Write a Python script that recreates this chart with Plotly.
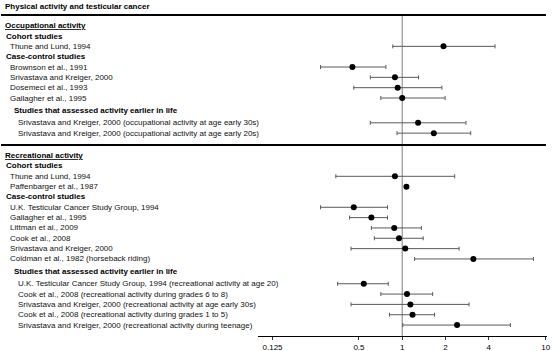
import plotly.graph_objects as go
import math

# ---------------- data ----------------
title_text = "Physical activity and testicular cancer"
sections = ["Occupational activity", "Recreational activity"]
groups = ["Cohort studies", "Case-control studies",
          "Studies that assessed activity earlier in life"]

occ_labels = [
    "Thune and Lund, 1994",
    "Brownson et al., 1991",
    "Srivastava and Kreiger, 2000",
    "Dosemeci et al., 1993",
    "Gallagher et al., 1995",
    "Srivastava and Kreiger, 2000 (occupational activity at age early 30s)",
    "Srivastava and Kreiger, 2000 (occupational activity at age early 20s)",
]
occ_group = [0, 1, 1, 1, 1, 2, 2]
occ_or = [1.94, 0.45, 0.89, 0.93, 1.00, 1.29, 1.66]
occ_lo = [0.86, 0.27, 0.60, 0.46, 0.71, 0.60, 0.92]
occ_hi = [4.43, 0.77, 1.30, 1.89, 1.99, 2.78, 3.00]

rec_labels = [
    "Thune and Lund, 1994",
    "Paffenbarger et al., 1987",
    "U.K. Testicular Cancer Study Group, 1994",
    "Gallagher et al., 1995",
    "Littman et al., 2009",
    "Cook et al., 2008",
    "Srivastava and Kreiger, 2000",
    "Coldman et al., 1982 (horseback riding)",
    "U.K. Testicular Cancer Study Group, 1994 (recreational activity at age 20)",
    "Cook et al., 2008 (recreational activity during grades 6 to 8)",
    "Srivastava and Kreiger, 2000 (recreational activity at age early 30s)",
    "Cook et al., 2008 (recreational activity during grades 1 to 5)",
    "Srivastava and Kreiger, 2000 (recreational activity during teenage)",
]
rec_group = [0, 0, 1, 1, 1, 1, 1, 1, 2, 2, 2, 2, 2]
rec_or = [0.89, 1.07, 0.46, 0.61, 0.88, 0.95, 1.05, 3.13, 0.54, 1.08, 1.14, 1.18, 2.41]
rec_lo = [0.345, None, 0.27, 0.43, 0.61, 0.64, 0.44, 1.22, 0.355, 0.71, 0.44, 0.815, 1.01]
rec_hi = [2.32, None, 0.79, 0.79, 1.36, 1.40, 2.49, 8.2, 0.80, 1.63, 2.92, 1.68, 5.67]

x_ticks = [0.125, 0.5, 1, 2, 4, 10]
x_ticklabels = ["0.125", "0.5", "1", "2", "4", "10"]

# ---------------- layout constants ----------------
W, H = 553, 351
PLOT_L, PLOT_R, PLOT_B = 258, 547, 336
PX_PER_DEC = 143.6
ONE_PX = 402.2
STEP = 10.33
SUB_GAP = 12.4
SEC_GAP = 10.7
END_GAP = 11.8
TOP_RULE = 15
FONT = "Liberation Sans, Arial, sans-serif"
FS = 8


def paper_x(px):
    return (px - PLOT_L) / (PLOT_R - PLOT_L)


annotations = []
shapes = []
pts_x, pts_y = [], []
ci_x, ci_y, ci_plus, ci_minus = [], [], [], []

annotations.append(dict(x=paper_x(3), y=6, xref="paper", yref="y", text="<b>" + title_text + "</b>",
                        showarrow=False, xanchor="left", yanchor="middle",
                        font=dict(family=FONT, size=FS, color="#000")))

rules = [TOP_RULE]
sec_data = [(occ_labels, occ_group, occ_or, occ_lo, occ_hi),
            (rec_labels, rec_group, rec_or, rec_lo, rec_hi)]

y = TOP_RULE
for si, (sec, (labels, grp, orv, lov, hiv)) in enumerate(zip(sections, sec_data)):
    y += SEC_GAP
    annotations.append(dict(x=paper_x(2.7), y=y, xref="paper", yref="y", text="<b>" + sec + "</b>",
                            showarrow=False, xanchor="left", yanchor="middle",
                            font=dict(family=FONT, size=FS, color="#000", lineposition="under")))
    prev = None
    for i, lab in enumerate(labels):
        g = grp[i]
        if g != prev:
            gap = SUB_GAP if g == 2 else STEP
            indent = 12 if g == 2 else 4
            y += gap
            annotations.append(dict(x=paper_x(indent), y=y, xref="paper", yref="y",
                                    text="<b>" + groups[g] + "</b>", showarrow=False,
                                    xanchor="left", yanchor="middle",
                                    font=dict(family=FONT, size=FS, color="#000")))
            y += gap
            prev = g
        else:
            y += STEP
        annotations.append(dict(x=paper_x(16 if g == 2 else 8), y=y, xref="paper", yref="y",
                                text=lab, showarrow=False, xanchor="left", yanchor="middle",
                                font=dict(family=FONT, size=FS, color="#111")))
        pts_x.append(orv[i])
        pts_y.append(y)
        if lov[i] is not None:
            ci_x.append(orv[i])
            ci_y.append(y)
            ci_plus.append(hiv[i] - orv[i])
            ci_minus.append(orv[i] - lov[i])
    y += END_GAP
    if si < len(sections) - 1:
        rules.append(y)

for r in rules:
    shapes.append(dict(type="line", xref="paper", yref="y", x0=paper_x(1), x1=paper_x(546),
                       y0=r, y1=r, line=dict(color="#000", width=2)))

shapes.append(dict(type="line", xref="x", yref="y", x0=1, x1=1, y0=TOP_RULE, y1=PLOT_B,
                   line=dict(color="#7f7f7f", width=1), layer="below"))

fig = go.Figure()
fig.add_trace(go.Scatter(x=ci_x, y=ci_y, mode="markers", marker=dict(size=1, color="rgba(0,0,0,0)"),
                         error_x=dict(type="data", symmetric=False, array=ci_plus, arrayminus=ci_minus,
                                      color="#5a5a5a", thickness=1, width=2),
                         hoverinfo="skip", showlegend=False))
fig.add_trace(go.Scatter(x=pts_x, y=pts_y, mode="markers",
                         marker=dict(size=6, color="#000", symbol="circle"),
                         showlegend=False))

lo_rng = (PLOT_L - ONE_PX) / PX_PER_DEC
hi_rng = (PLOT_R - ONE_PX) / PX_PER_DEC

fig.update_layout(
    width=W, height=H,
    margin=dict(l=PLOT_L, r=W - PLOT_R, t=0, b=H - PLOT_B, pad=0),
    paper_bgcolor="white", plot_bgcolor="white",
    showlegend=False,
    annotations=annotations, shapes=shapes,
    xaxis=dict(type="log", range=[lo_rng, hi_rng], tickvals=x_ticks, ticktext=x_ticklabels,
               showgrid=False, zeroline=False, showline=True, linecolor="#000", linewidth=1,
               ticks="outside", ticklen=3, tickcolor="#333", tickwidth=1,
               tickfont=dict(family=FONT, size=FS, color="#000"), fixedrange=True),
    yaxis=dict(range=[PLOT_B, 0], visible=False, fixedrange=True),
)

fig.write_html("out.html", config={"displayModeBar": False},
               post_script="document.body.style.margin='0';document.body.style.overflow='hidden';")
